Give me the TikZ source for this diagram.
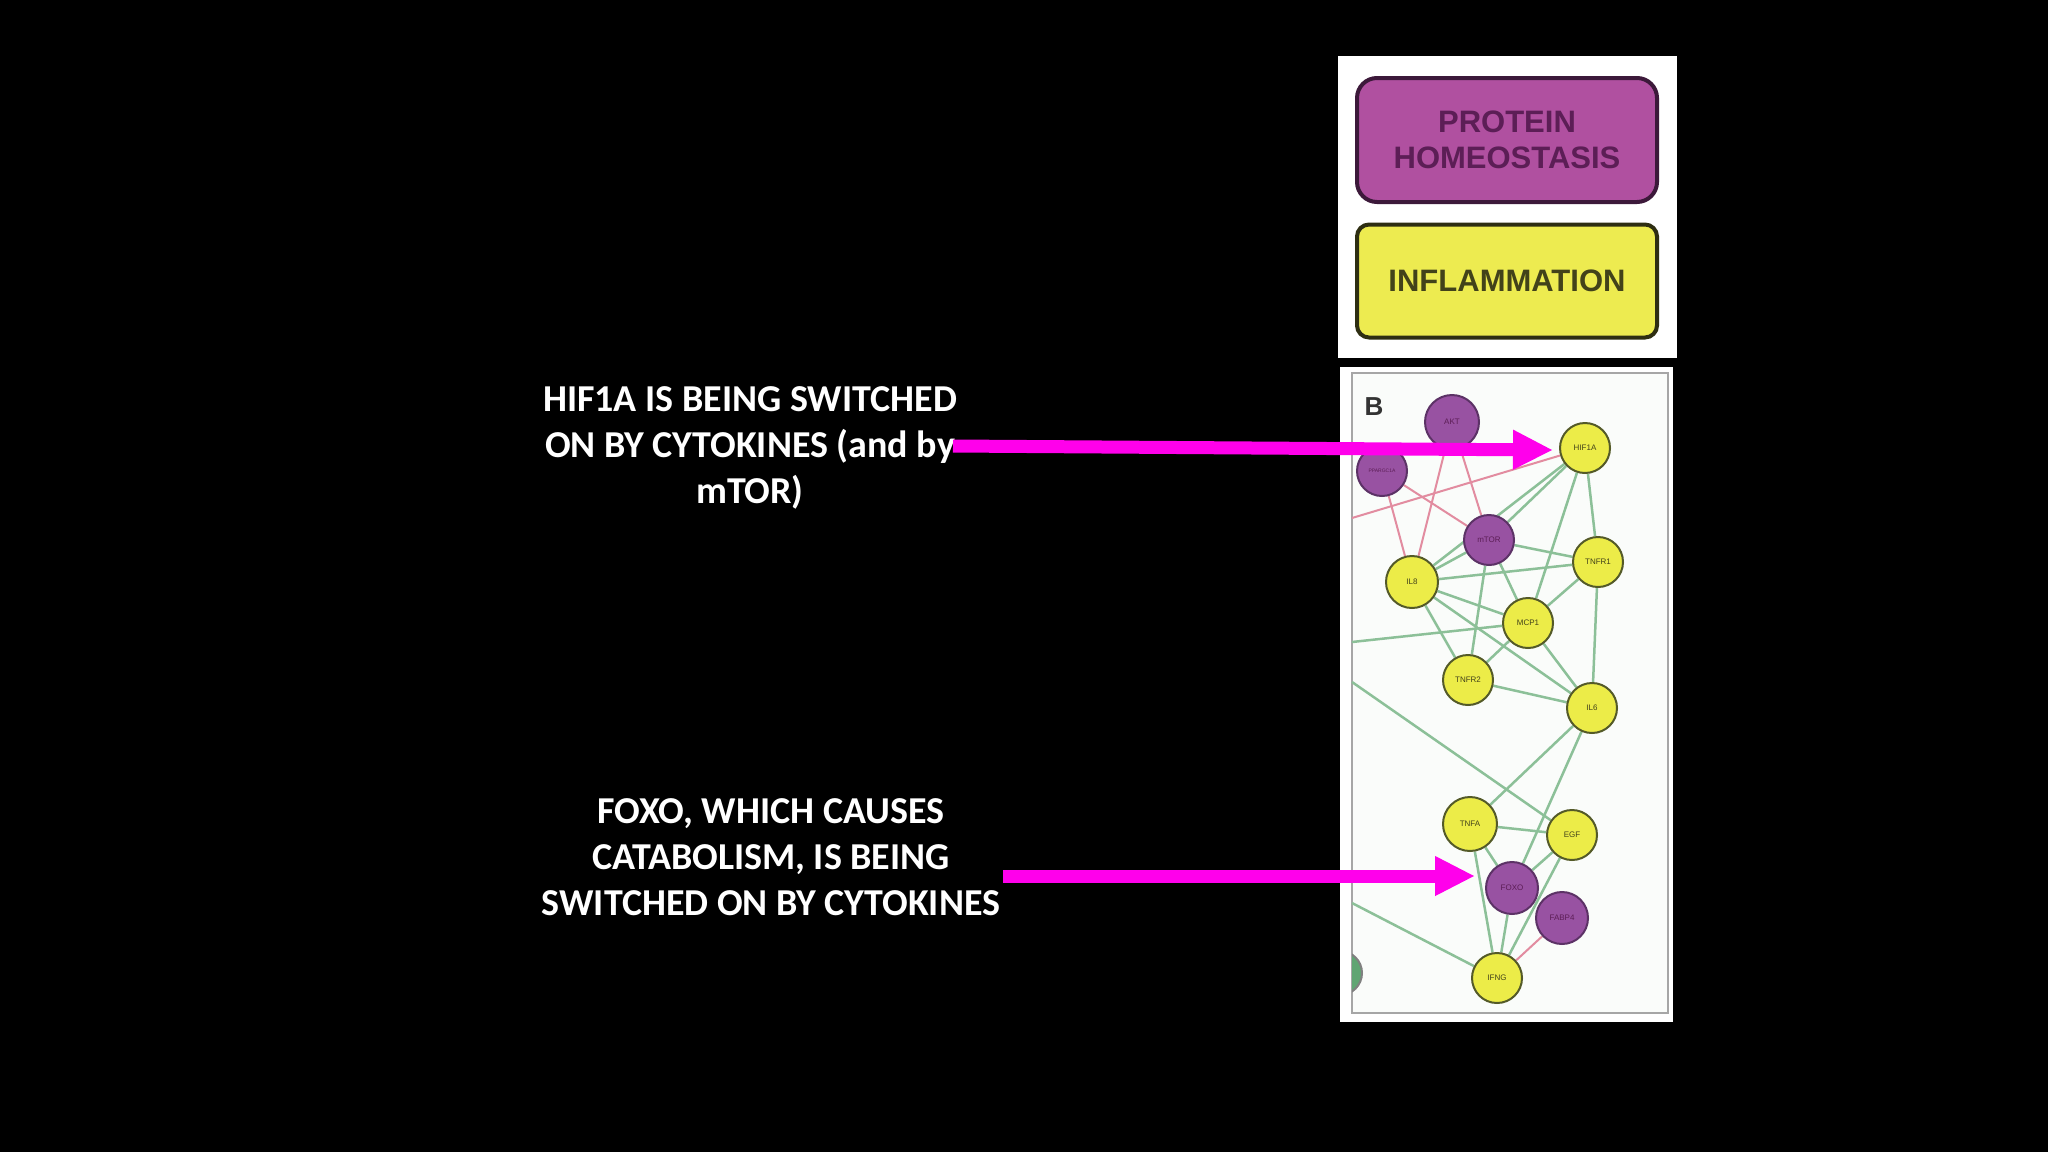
\documentclass[tikz,border=0pt]{standalone}
\usepackage{fontspec}
\setmainfont{Carlito}
\newfontfamily\legendfont{Liberation Sans}
\usepackage{xcolor}
\usetikzlibrary{arrows.meta, positioning, backgrounds}

\definecolor{slidemag}{RGB}{255,0,235}
\definecolor{protfill}{RGB}{176,80,160}
\definecolor{protline}{RGB}{60,25,58}
\definecolor{prottext}{RGB}{92,30,86}
\definecolor{inflfill}{RGB}{237,235,80}
\definecolor{inflline}{RGB}{46,46,18}
\definecolor{infltext}{RGB}{66,66,26}
\definecolor{nodeviolet}{RGB}{152,82,162}
\definecolor{nodevioletline}{RGB}{92,50,102}
\definecolor{nodeyellow}{RGB}{236,236,72}
\definecolor{nodeyellowline}{RGB}{84,90,40}
\definecolor{edgegreen}{RGB}{140,192,152}
\definecolor{edgered}{RGB}{226,140,160}
\definecolor{panelbg}{RGB}{250,252,250}

\pgfdeclarelayer{slide}
\pgfsetlayers{slide,background,main}

\begin{document}
\begin{tikzpicture}[x=1pt, y=-1pt,
    msg/.style={text=white, font=\bfseries\fontsize{38}{45.7}\selectfont, align=center},
    pointer/.style={draw=slidemag, line width=13pt, -{Triangle[length=40pt, width=37pt]}},
    legendbox/.style={minimum width=300pt, line width=4pt, align=center,
        font=\legendfont\bfseries\fontsize{31}{36}\selectfont},
    gene/.style={circle, minimum size=50pt, inner sep=0pt, line width=2pt,
        font=\legendfont\fontsize{8}{8}\selectfont},
    cyto/.style={gene, fill=nodeyellow, draw=nodeyellowline, text=infltext},
    prot/.style={gene, fill=nodeviolet, draw=nodevioletline, text=prottext},
    gedge/.style={draw=edgegreen, line width=2.5pt},
    redge/.style={draw=edgered, line width=2pt}]
    \useasboundingbox (0,0) rectangle (2048,1152);
    % =================================================================
    % 1. NỀN SLIDE VÀ HAI KHUNG TRẮNG
    % =================================================================
    \begin{pgfonlayer}{slide}
        \fill[black] (0,0) rectangle (2048,1152);
        \fill[white] (1338,56) rectangle (1677,358);
        \fill[white] (1340,367) rectangle (1673,1022);
        \fill[panelbg] (1352,373) rectangle (1668,1013);
        \draw[gray!70, line width=2pt] (1352,373) rectangle (1668,1013);
        % Nút xanh bị cắt ở mép trái
        \begin{scope}
            \clip (1352,373) rectangle (1668,1013);
            \draw[fill={rgb,255:red,96;green,165;blue,115}, draw=black!50, line width=2pt] (1340,973) circle (22);
        \end{scope}
    \end{pgfonlayer}

    % Chú thích màu
    \node[legendbox, rounded corners=20pt, fill=protfill, draw=protline, text=prottext,
        minimum height=124pt] (protbox) at (1507,140) {PROTEIN\\HOMEOSTASIS};
    \node[legendbox, rounded corners=12pt, fill=inflfill, draw=inflline, text=infltext,
        minimum height=113pt] (inflbox) at (1507,281) {INFLAMMATION};

    % =================================================================
    % 2. MẠNG GEN (panel B)
    % =================================================================
    \node[font=\legendfont\bfseries\fontsize{26}{26}\selectfont, text=black!80] (panelb) at (1374,407) {B};
    \node[prot, minimum size=54pt] (akt) at (1452,422) {AKT};
    \node[prot, font=\legendfont\fontsize{5}{5}\selectfont] (ppar) at (1382,471) {PPARGC1A};
    \node[cyto] (hif) at (1585,448) {HIF1A};
    \node[prot] (mtor) at (1489,540) {mTOR};
    \node[cyto, minimum size=52pt] (il8) at (1412,582) {IL8};
    \node[cyto] (tnfr1) at (1598,562) {TNFR1};
    \node[cyto] (mcp) at (1528,623) {MCP1};
    \node[cyto] (tnfr2) at (1468,680) {TNFR2};
    \node[cyto] (il6) at (1592,708) {IL6};
    \node[cyto, minimum size=54pt] (tnfa) at (1470,824) {TNFA};
    \node[cyto] (egf) at (1572,835) {EGF};
    \node[prot, minimum size=52pt] (foxo) at (1512,888) {FOXO};
    \node[prot, minimum size=52pt] (fabp) at (1562,918) {FABP4};
    \node[cyto] (ifng) at (1497,978) {IFNG};

    % Đầu mút các cạnh đi ra ngoài khung
    \coordinate (offa) at (1352,518);
    \coordinate (offb) at (1352,642);
    \coordinate (offc) at (1352,682);
    \coordinate (offd) at (1352,903);

    \begin{pgfonlayer}{background}
        % Cạnh đỏ
        \draw[redge] (ppar) -- (il8);
        \draw[redge] (akt) -- (il8);
        \draw[redge] (akt) -- (mtor);
        \draw[redge] (ppar) -- (mtor);
        \draw[redge] (offa) -- (hif);
        \draw[redge] (fabp) -- (ifng);
        % Cạnh xanh
        \foreach \a/\b in {hif/il8, hif/mtor, hif/mcp, hif/tnfr1, mtor/tnfr1, mtor/mcp,
            mtor/tnfr2, il8/mtor, il8/tnfr1, il8/mcp, il8/tnfr2, il8/il6, tnfr1/mcp,
            tnfr1/il6, mcp/il6, mcp/tnfr2, tnfr2/il6, il6/tnfa, il6/foxo, tnfa/egf,
            tnfa/foxo, tnfa/ifng, egf/foxo, egf/ifng, foxo/ifng, offb/mcp, offc/egf, offd/ifng}
            \draw[gedge] (\a) -- (\b);
    \end{pgfonlayer}

    % =================================================================
    % 3. CHỮ VÀ MŨI TÊN
    % =================================================================
    \node[msg] (hiftext) at (750,448) {HIF1A IS BEING SWITCHED\\ON BY CYTOKINES (and by\\mTOR)};
    \node[msg] (foxotext) at (771,857) {FOXO, WHICH CAUSES\\CATABOLISM, IS BEING\\SWITCHED ON BY CYTOKINES};
    \coordinate (hiftail) at (953,446);
    \coordinate (hiftip) at (1553,450);
    \coordinate (foxotail) at (1003,876);
    \coordinate (foxotip) at (1475,876);
    \draw[pointer] (hiftail) -- (hiftip);
    \draw[pointer] (foxotail) -- (foxotip);
\end{tikzpicture}
\end{document}
